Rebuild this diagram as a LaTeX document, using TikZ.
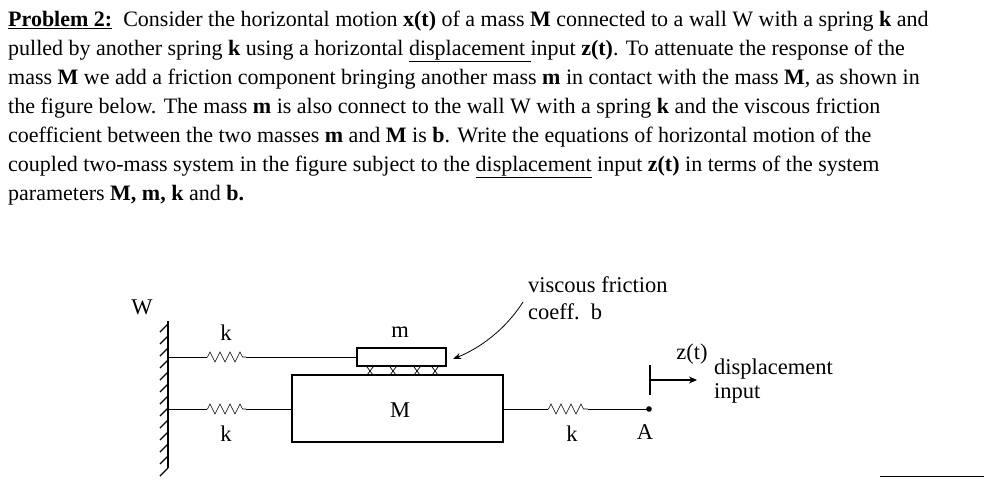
\documentclass[tikz,border=0pt]{standalone}
\usepackage{fontspec}
\setmainfont{Liberation Serif}
\usetikzlibrary{decorations.pathmorphing,arrows.meta}
\begin{document}
\begin{tikzpicture}[x=1pt,y=-1pt,
  txt/.style={anchor=base west,inner sep=0pt,font=\fontsize{22}{26}\selectfont},
  lbl/.style={inner sep=0pt,font=\fontsize{22.5}{26}\selectfont},
  wire/.style={line width=0.6pt},
  spr/.style={wire,decorate,decoration={zigzag,segment length=10pt,amplitude=5pt,pre length=0.5pt,post length=0.5pt}},
  box/.style={draw,line width=2pt,inner sep=0pt}]
\useasboundingbox (0,0) rectangle (984,479);
\node[txt] (l1) at (8,26) {\underline{\textbf{Problem 2:}}\ \ Consider the horizontal motion \textbf{x(t)} of a mass \textbf{M} connected to a wall W with a spring \textbf{k} and};
\node[txt] (l2) at (8,55) {pulled by another spring \textbf{k} using a horizontal \underline{displacement }input \textbf{z(t)}. To attenuate the response of the};
\node[txt] (l3) at (8,84) {mass \textbf{M} we add a friction component bringing another mass \textbf{m} in contact with the mass \textbf{M}, as shown in};
\node[txt] (l4) at (8,113) {the figure below. The mass \textbf{m} is also connect to the wall W with a spring \textbf{k} and the viscous friction};
\node[txt] (l5) at (8,142) {coefficient between the two masses \textbf{m} and \textbf{M} is \textbf{b}. Write the equations of horizontal motion of the};
\node[txt] (l6) at (8,171) {coupled two-mass system in the figure subject to the \underline{displacement} input \textbf{z(t)} in terms of the system};
\node[txt] (l7) at (8,200) {parameters \textbf{M, m, k} and \textbf{b.}};
% wall
\coordinate (wt) at (168,321);
\coordinate (wb) at (168,468);
\draw[line width=2pt] (wt) -- (wb);
\foreach \y in {324,336,...,468} \draw[line width=1.2pt] (168,\y) -- (160,\y+8);
\node[lbl] (W) at (142,307) {W};
% masses
\node[box,minimum width=211pt,minimum height=67pt] (M) at (397.5,408.5) {};
\node[lbl] (Ml) at (400,410) {M};
\node[box,minimum width=89pt,minimum height=18pt] (m) at (401.5,357) {};
\node[lbl] (ml) at (400,332) {m};
\foreach \x in {370,393,417,435} {\draw[line width=0.7pt] (\x-3,367) -- (\x+3,375) (\x+3,367) -- (\x-3,375);}
% springs
\coordinate (s1a) at (207,357); \coordinate (s1b) at (246,357);
\draw[wire] (168,357) -- (s1a); \draw[spr] (s1a) -- (s1b); \draw[wire] (s1b) -- (m.west);
\coordinate (s2a) at (207,409); \coordinate (s2b) at (246,409);
\draw[wire] (168,409) -- (s2a); \draw[spr] (s2a) -- (s2b); \draw[wire] (s2b) -- (M.west |- s2b);
\coordinate (s3a) at (548,409); \coordinate (s3b) at (588,409);
\coordinate (A) at (649,409);
\draw[wire] (M.east |- s3a) -- (s3a); \draw[spr] (s3a) -- (s3b); \draw[wire] (s3b) -- (A);
\fill (A) circle (2.8pt);
\node[lbl] (k1) at (226,333) {k};
\node[lbl] (k2) at (226,434) {k};
\node[lbl] (k3) at (572,434) {k};
\node[lbl] (Al) at (645,432) {A};
% friction note
\node[lbl,anchor=west] (vf) at (528,285) {viscous friction};
\node[lbl,anchor=west] (cb) at (528,312) {coeff.\ \ b};
\coordinate (vs) at (523,302);
\draw[line width=0.8pt,-{Stealth[length=8pt,width=6pt]}] (vs) .. controls (505,330) and (480,348) .. (453,359);
% input
\coordinate (zb) at (650,380);
\draw[line width=1.2pt] (650,365) -- (650,395);
\coordinate (ze) at (697,380);
\draw[line width=1.2pt,-{Stealth[length=8pt,width=7pt]}] (zb) -- (ze);
\node[lbl] (zt) at (692,354) {z(t)};
\node[lbl,anchor=west] (d1) at (714,369) {displacement};
\node[lbl,anchor=west] (d2) at (714,393) {input};
\draw[line width=0.8pt] (880,476) -- (984,476);
\end{tikzpicture}
\end{document}
